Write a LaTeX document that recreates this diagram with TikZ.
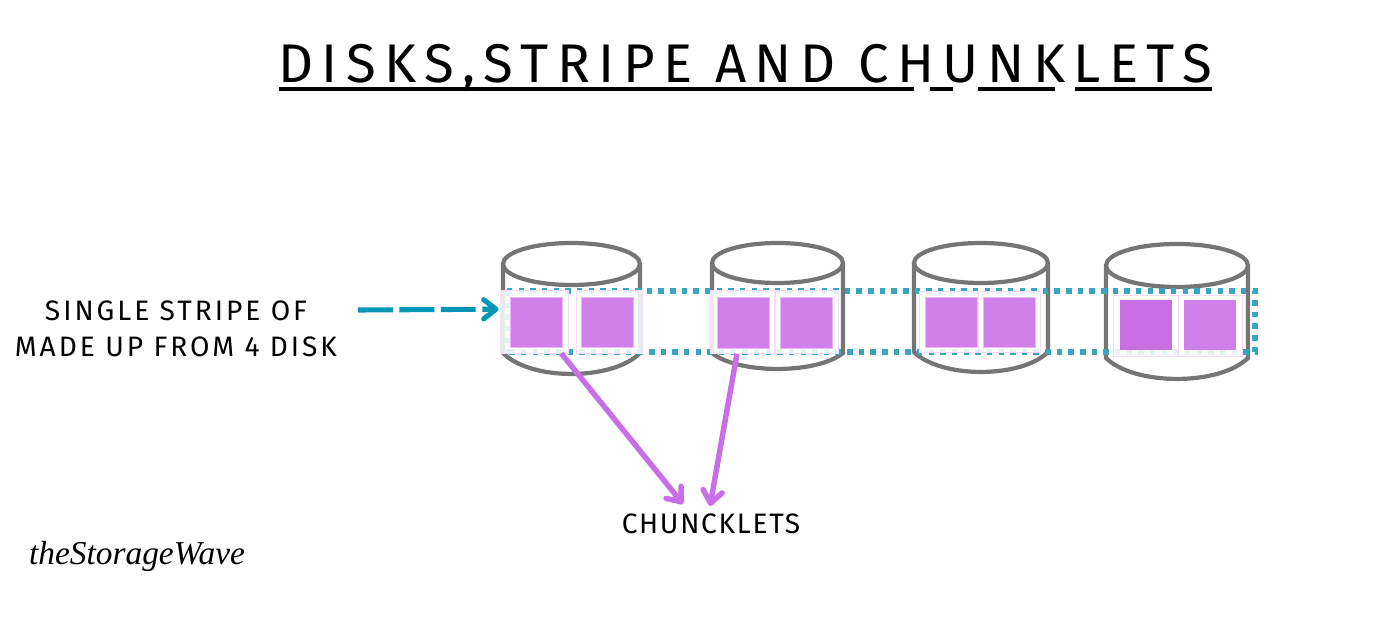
\documentclass[tikz,border=0pt]{standalone}
\usepackage{fontspec}
\setmainfont{Fira Sans}
\newfontfamily\signfont{Liberation Serif}
\usetikzlibrary{arrows.meta}
\definecolor{diskgrey}{HTML}{757575}
\definecolor{stripeteal}{HTML}{3AA5BF}
\definecolor{arrowteal}{HTML}{0097B7}
\definecolor{chunkpurple}{HTML}{D17FE9}
\definecolor{chunkdark}{HTML}{C96FE3}
\definecolor{chunkedge}{HTML}{E9B8F5}
\definecolor{slotedge}{HTML}{F3DDFA}
\definecolor{arrowpurple}{HTML}{C86EE6}
\tikzstyle{disk} = [line width=2.4pt,draw=diskgrey,fill=white]
\tikzstyle{stripe} = [line width=3.3pt,stripeteal,dash pattern=on 3.1pt off 3.53pt]
\tikzstyle{slot} = [draw=slotedge,line width=0.4pt,fill=white,fill opacity=0.85,inner sep=0pt,minimum height=1.26cm]
\tikzstyle{chunk} = [draw=chunkedge,line width=0.5pt,fill=chunkpurple,inner sep=0pt,minimum width=1.04cm,minimum height=1cm]
\tikzstyle{tealarrow} = [line width=2.9pt,arrowteal,dash pattern=on 19.8pt off 3.8pt,-{Straight Barb[round,length=7pt,width=11pt,line width=2.9pt]}]
\tikzstyle{purplearrow} = [line width=3.1pt,arrowpurple,-{Straight Barb[round,length=7pt,width=11pt,line width=3.1pt]}]
\tikzstyle{hand} = [inner sep=0pt,align=center,black]

\begin{document}
\begin{tikzpicture}[x=0.02cm,y=-0.02cm]
\useasboundingbox (0,0) rectangle (1384,624);

% title
\node[hand,font=\fontsize{31}{36}\selectfont\addfontfeature{LetterSpace=15.5}] (title) at (745,68) {DISKS,STRIPE AND CHUNKLETS};
\draw[line width=2.3pt,black] (279,89) -- (914,89) (930,89) -- (953,89) (978,89) -- (1055,89) (1075,89) -- (1212,89);

% disks
\foreach \cx/\cy/\rx/\ry/\low/\dip in {571.5/264/68.5/21/353/21,777.5/263/65.5/20/353/16,981/263/67/20/352/20,1177/265.5/71/21.5/358/21}{
  \draw[disk] (\cx-\rx,\cy) -- (\cx-\rx,\low) .. controls (\cx-0.6*\rx,\low+1.33*\dip) and (\cx+0.6*\rx,\low+1.33*\dip) .. (\cx+\rx,\low) -- (\cx+\rx,\cy);
  \draw[disk] (\cx,\cy) ellipse ({\rx} and {\ry});
}

% stripe across the disks
\draw[stripe] (507,291) -- (1255,291) -- (1255,352) -- (507,352);
\draw[stripe] (507,291) -- (507,352);

% slots
\node[slot,minimum width=1.34cm] (slota) at (534.5,321.5) {};
\node[slot,minimum width=1.32cm] (slotb) at (609,321.5) {};
\node[slot,minimum width=1.28cm] (slotc) at (742,322) {};
\node[slot,minimum width=1.26cm] (slotd) at (806.5,322) {};
\node[slot,minimum width=1.18cm,minimum height=1.23cm] (slote) at (948.5,321.7) {};
\node[slot,minimum width=1.24cm,minimum height=1.23cm] (slotf) at (1009,321.7) {};
\node[slot,minimum width=1.3cm,minimum height=1.22cm] (slotg) at (1145.5,325.5) {};
\node[slot,minimum width=1.28cm,minimum height=1.22cm] (sloth) at (1210,325.5) {};

% chunklets
\node[chunk] (chunka) at (536,322) {};
\node[chunk] (chunkb) at (607.5,322) {};
\node[chunk,minimum height=1.02cm] (chunkc) at (743,322.5) {};
\node[chunk,minimum height=1.02cm] (chunkd) at (806,322.5) {};
\node[chunk] (chunke) at (951.5,322) {};
\node[chunk] (chunkf) at (1009,322) {};
\node[chunk,fill=chunkdark,draw=none] (chunkg) at (1145.5,325) {};
\node[chunk,draw=none] (chunkh) at (1210,325) {};

% labels
\node[hand,font=\fontsize{16}{20.4}\selectfont\addfontfeature{LetterSpace=10.5}] (stripelabel) at (176,329) {SINGLE STRIPE OF\\MADE UP FROM 4 DISK};
\node[hand,font=\fontsize{16}{20}\selectfont\addfontfeature{LetterSpace=6}] (chunklabel) at (711,523.5) {CHUNCKLETS};
\node[hand,font=\fontsize{19}{23}\selectfont\signfont\itshape] (signature) at (137,556) {theStorageWave};

% arrows
\coordinate (stripestart) at (358,310);
\coordinate (tipa) at (683,504);
\coordinate (tipb) at (710,506);
\draw[tealarrow,shorten >=1.2pt] (stripestart) -- (slota.160);
\draw[purplearrow] (slota.-50) -- (tipa);
\draw[purplearrow] (slotc.-99) -- (tipb);
\end{tikzpicture}
\end{document}
